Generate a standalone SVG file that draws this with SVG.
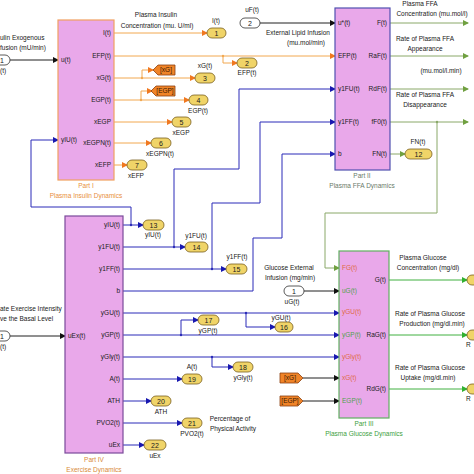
<svg xmlns="http://www.w3.org/2000/svg" width="474" height="474" viewBox="0 0 474 474">
<style>
text{font-family:"Liberation Sans",Arial,sans-serif;font-size:6.5px;fill:#202020}
.c{text-anchor:middle}
.e{text-anchor:end}
.blk{fill:#e9a8ea;stroke-width:1.2}
.ov{fill:#f0d468;stroke:#7a6020;stroke-width:0.8}
.ovw{fill:#ffffff;stroke:#303030;stroke-width:0.8}
.num{font-size:7px;text-anchor:middle}
.tag{fill:#f08428;stroke:#8a4010;stroke-width:0.8}
.tagt{font-size:6.5px;text-anchor:middle;fill:#3a1800}
.k{stroke:#202020;fill:none;stroke-width:1}
.o{stroke:#f2a850;fill:none;stroke-width:1}
.b{stroke:#2a2ab8;fill:none;stroke-width:1}
.ol{stroke:#8aa868;fill:none;stroke-width:1}
.g{stroke:#40b040;fill:none;stroke-width:1}
.in3a{fill:#e06848}
.in3b{fill:#50a050}
</style>
<defs>
<marker id="ak" markerWidth="6" markerHeight="6" refX="5" refY="3" orient="auto" markerUnits="userSpaceOnUse"><path d="M0,0L6,3L0,6z" fill="#101010"/></marker>
<marker id="ao" markerWidth="6" markerHeight="6" refX="5" refY="3" orient="auto" markerUnits="userSpaceOnUse"><path d="M0,0L6,3L0,6z" fill="#f07820"/></marker>
<marker id="ab" markerWidth="6" markerHeight="6" refX="5" refY="3" orient="auto" markerUnits="userSpaceOnUse"><path d="M0,0L6,3L0,6z" fill="#1818b0"/></marker>
<marker id="aol" markerWidth="6" markerHeight="6" refX="5" refY="3" orient="auto" markerUnits="userSpaceOnUse"><path d="M0,0L6,3L0,6z" fill="#70a040"/></marker>
<marker id="ag" markerWidth="6" markerHeight="6" refX="5" refY="3" orient="auto" markerUnits="userSpaceOnUse"><path d="M0,0L6,3L0,6z" fill="#30b030"/></marker>
</defs>
<rect width="474" height="474" fill="#ffffff"/>

<g id="connectors">
<path class="k" d="M10,60H58" marker-end="url(#ak)"/>
<path class="k" d="M260,23H335" marker-end="url(#ak)"/>
<path class="k" d="M10,336H65" marker-end="url(#ak)"/>
<path class="k" d="M304,291H339" marker-end="url(#ak)"/>
<path class="k" d="M303,378H339" marker-end="url(#ak)"/>
<path class="k" d="M303,401H339" marker-end="url(#ak)"/>

<path class="o" d="M114,33H207" marker-end="url(#ao)"/>
<path class="o" d="M114,56H335" marker-end="url(#ao)"/>
<path class="o" d="M223,56V63H237" marker-end="url(#ao)"/>
<path class="o" d="M114,78H195" marker-end="url(#ao)"/>
<path class="o" d="M142,78V70H153" marker-end="url(#ao)"/>
<path class="o" d="M114,100H189" marker-end="url(#ao)"/>
<path class="o" d="M141,100V91H152" marker-end="url(#ao)"/>
<path class="o" d="M114,122H172" marker-end="url(#ao)"/>
<path class="o" d="M114,143H151" marker-end="url(#ao)"/>
<path class="o" d="M114,165H127" marker-end="url(#ao)"/>
<circle cx="223" cy="56" r="1.2" fill="#f2a850"/>
<circle cx="142" cy="78" r="1.2" fill="#f2a850"/>
<circle cx="141" cy="100" r="1.2" fill="#f2a850"/>

<path class="b" d="M123,225H143" marker-end="url(#ab)"/>
<path class="b" d="M131,225V207H31V140H58" marker-end="url(#ab)"/>
<path class="b" d="M123,247H185" marker-end="url(#ab)"/>
<path class="b" d="M174,247V169H239V89H335" marker-end="url(#ab)"/>
<path class="b" d="M123,269H226" marker-end="url(#ab)"/>
<path class="b" d="M212,269V203H260V122H335" marker-end="url(#ab)"/>
<path class="b" d="M123,291H253V238H282V154H335" marker-end="url(#ab)"/>
<path class="b" d="M123,313H339" marker-end="url(#ab)"/>
<path class="b" d="M246,313V327H275" marker-end="url(#ab)"/>
<path class="b" d="M123,335H339" marker-end="url(#ab)"/>
<path class="b" d="M181,335V320H198" marker-end="url(#ab)"/>
<path class="b" d="M123,357H339" marker-end="url(#ab)"/>
<path class="b" d="M212,357V367H233" marker-end="url(#ab)"/>
<path class="b" d="M123,379H182" marker-end="url(#ab)"/>
<path class="b" d="M123,401H151" marker-end="url(#ab)"/>
<path class="b" d="M123,423H182" marker-end="url(#ab)"/>
<path class="b" d="M123,445H144" marker-end="url(#ab)"/>
<circle cx="131" cy="225" r="1.2" fill="#2a2ab8"/>
<circle cx="174" cy="247" r="1.2" fill="#2a2ab8"/>
<circle cx="212" cy="269" r="1.2" fill="#2a2ab8"/>
<circle cx="246" cy="313" r="1.2" fill="#2a2ab8"/>
<circle cx="181" cy="335" r="1.2" fill="#2a2ab8"/>
<circle cx="212" cy="357" r="1.2" fill="#2a2ab8"/>

<path class="ol" d="M390,23H468" marker-end="url(#aol)"/>
<path class="ol" d="M390,56H468" marker-end="url(#aol)"/>
<path class="ol" d="M390,89H468" marker-end="url(#aol)"/>
<path class="ol" d="M390,122H468" marker-end="url(#aol)"/>
<path class="ol" d="M437,122V213H325V268H339" marker-end="url(#aol)"/>
<path class="ol" d="M390,154H405" marker-end="url(#aol)"/>
<circle cx="437" cy="122" r="1.2" fill="#8aa868"/>

<path class="g" d="M389,280H467" marker-end="url(#ag)"/>
<path class="g" d="M389,335H467" marker-end="url(#ag)"/>
<path class="g" d="M389,389H467" marker-end="url(#ag)"/>
</g>

<g id="part1">
<rect class="blk" x="58" y="20" width="56" height="160" stroke="#f0a060"/>
<text x="61" y="62">u(t)</text>
<text x="61" y="142">yIU(t)</text>
<text class="e" x="111" y="35">I(t)</text>
<text class="e" x="111" y="58">EFP(t)</text>
<text class="e" x="111" y="80">xG(t)</text>
<text class="e" x="111" y="102">EGP(t)</text>
<text class="e" x="111" y="124">xEGP</text>
<text class="e" x="111" y="145">xEGPN(t)</text>
<text class="e" x="111" y="167">xEFP</text>
<text class="c" x="86" y="188" style="fill:#e89040">Part I</text>
<text class="c" x="86" y="198" style="fill:#e89040">Plasma Insulin Dynamics</text>
</g>

<g id="part2">
<rect class="blk" x="335" y="8" width="55" height="162" stroke="#5050b0"/>
<text x="338" y="25">u*(t)</text>
<text x="338" y="58">EFP(t)</text>
<text x="338" y="91">y1FU(t)</text>
<text x="338" y="124">y1FF(t)</text>
<text x="338" y="156">b</text>
<text class="e" x="387" y="25">F(t)</text>
<text class="e" x="387" y="58">RaF(t)</text>
<text class="e" x="387" y="91">RdF(t)</text>
<text class="e" x="387" y="124">fF0(t)</text>
<text class="e" x="387" y="156">FN(t)</text>
<text class="c" x="362" y="178" style="fill:#6a7a6a">Part II</text>
<text class="c" x="362" y="188" style="fill:#6a7a6a">Plasma FFA Dynamics</text>
</g>

<g id="part3">
<rect class="blk" x="339" y="251" width="50" height="167" stroke="#60b060"/>
<text class="in3a" x="342" y="270">FG(t)</text>
<text class="in3b" x="342" y="293">uG(t)</text>
<text class="in3a" x="342" y="314">yGU(t)</text>
<text class="in3b" x="342" y="337">yGP(t)</text>
<text class="in3a" x="342" y="359">yGly(t)</text>
<text class="in3a" x="342" y="380">xG(t)</text>
<text class="in3b" x="342" y="403">EGP(t)</text>
<text class="e" x="386" y="282">G(t)</text>
<text class="e" x="386" y="337">RaG(t)</text>
<text class="e" x="386" y="391">RdG(t)</text>
<text class="c" x="364" y="426" style="fill:#40a040">Part III</text>
<text class="c" x="364" y="436" style="fill:#40a040">Plasma Glucose Dynamics</text>
</g>

<g id="part4">
<rect class="blk" x="65" y="216" width="58" height="237" stroke="#7a4a9a"/>
<text x="68" y="338">uEx(t)</text>
<text class="e" x="120" y="227">yIU(t)</text>
<text class="e" x="120" y="249">y1FU(t)</text>
<text class="e" x="120" y="271">y1FF(t)</text>
<text class="e" x="120" y="293">b</text>
<text class="e" x="120" y="315">yGU(t)</text>
<text class="e" x="120" y="337">yGP(t)</text>
<text class="e" x="120" y="359">yGly(t)</text>
<text class="e" x="120" y="381">A(t)</text>
<text class="e" x="120" y="403">ATH</text>
<text class="e" x="120" y="425">PVO2(t)</text>
<text class="e" x="120" y="447">uEx</text>
<text class="c" x="94" y="462" style="fill:#d88a3a">Part IV</text>
<text class="c" x="94" y="472" style="fill:#d88a3a">Exercise Dynamics</text>
</g>

<g id="inputs">
<rect class="ovw" x="-10" y="55" width="20" height="10" rx="5"/>
<text class="num" x="2" y="62.5">1</text>
<text x="0" y="73">(t)</text>
<text x="0" y="40">ulin Exogenous</text>
<text x="0" y="50">fusion (mU/min)</text>
<rect class="ovw" x="-10" y="331" width="20" height="10" rx="5"/>
<text class="num" x="2" y="338.5">1</text>
<text x="0" y="349">(t)</text>
<text x="0" y="311">ate Exercise Intensity</text>
<text x="0" y="321">ve the Basal Level</text>
<rect class="ovw" x="240" y="18" width="20" height="10" rx="5"/>
<text class="num" x="250" y="25.5">2</text>
<text class="c" x="252" y="12">uF(t)</text>
<text class="c" x="298" y="35">External Lipid Infusion</text>
<text class="c" x="306" y="45">(mu.mol/min)</text>
<rect class="ovw" x="284" y="286" width="20" height="10" rx="5"/>
<text class="num" x="294" y="293.5">1</text>
<text class="c" x="292" y="304">uG(t)</text>
<text class="c" x="289" y="270">Glucose External</text>
<text class="c" x="290" y="280">Infusion (mg/min)</text>
</g>

<g id="tags">
<polygon class="tag" points="153,70 158,65 175,65 175,75 158,75"/>
<text class="tagt" x="166" y="72.3">[xG]</text>
<polygon class="tag" points="151,91 156,86 175,86 175,96 156,96"/>
<text class="tagt" x="165" y="93.3">[EGP]</text>
<polygon class="tag" points="280,373 298,373 303,378 298,383 280,383"/>
<text class="tagt" x="290" y="380.3">[xG]</text>
<polygon class="tag" points="280,396 298,396 303,401 298,406 280,406"/>
<text class="tagt" x="290" y="403.3">[EGP]</text>
</g>

<g id="outports">
<rect class="ov" x="207" y="28" width="19" height="10" rx="5"/><text class="num" x="216.5" y="35.5">1</text>
<text class="c" x="216" y="23">I(t)</text>
<text class="c" x="156" y="17">Plasma Insulin</text>
<text class="c" x="157" y="28">Concentration (mu. U/ml)</text>
<rect class="ov" x="237" y="58" width="20" height="10" rx="5"/><text class="num" x="247" y="65.5">2</text>
<text class="c" x="247" y="75">EFP(t)</text>
<rect class="ov" x="195" y="73" width="20" height="10" rx="5"/><text class="num" x="205" y="80.5">3</text>
<text class="c" x="205" y="68">xG(t)</text>
<rect class="ov" x="189" y="95" width="19" height="10" rx="5"/><text class="num" x="198.5" y="102.5">4</text>
<text class="c" x="198" y="113">EGP(t)</text>
<rect class="ov" x="172" y="117" width="19" height="10" rx="5"/><text class="num" x="181.5" y="124.5">5</text>
<text class="c" x="181" y="135">xEGP</text>
<rect class="ov" x="151" y="138" width="20" height="10" rx="5"/><text class="num" x="161" y="145.5">6</text>
<text class="c" x="160" y="156">xEGPN(t)</text>
<rect class="ov" x="127" y="160" width="20" height="10" rx="5"/><text class="num" x="137" y="167.5">7</text>
<text class="c" x="136" y="178">xEFP</text>

<rect class="ov" x="405" y="149" width="27" height="10" rx="5"/><text class="num" x="418.5" y="156.5">12</text>
<text class="c" x="418" y="144">FN(t)</text>
<text class="c" x="420" y="6">Plasma FFA</text>
<text class="c" x="432" y="16">Concentration (mu.mol/l)</text>
<text class="c" x="425" y="41">Rate of Plasma FFA</text>
<text class="c" x="425" y="51">Appearance</text>
<text class="c" x="441" y="73">(mu.mol/l.min)</text>
<text class="c" x="425" y="97">Rate of Plasma FFA</text>
<text class="c" x="425" y="107">Disappearance</text>

<rect class="ov" x="143" y="220" width="21" height="10" rx="5"/><text class="num" x="153.5" y="227.5">13</text>
<text class="c" x="153" y="237">yIU(t)</text>
<rect class="ov" x="185" y="242" width="23" height="10" rx="5"/><text class="num" x="196.5" y="249.5">14</text>
<text class="c" x="196" y="238">y1FU(t)</text>
<rect class="ov" x="226" y="264" width="21" height="10" rx="5"/><text class="num" x="236.5" y="271.5">15</text>
<text class="c" x="237" y="259">y1FF(t)</text>
<rect class="ov" x="275" y="322" width="18" height="10" rx="5"/><text class="num" x="284" y="329.5">16</text>
<text class="c" x="281" y="320">yGU(t)</text>
<rect class="ov" x="198" y="315" width="21" height="10" rx="5"/><text class="num" x="208.5" y="322.5">17</text>
<text class="c" x="208" y="333">yGP(t)</text>
<rect class="ov" x="233" y="362" width="20" height="10" rx="5"/><text class="num" x="243" y="369.5">18</text>
<text class="c" x="243" y="380">yGly(t)</text>
<rect class="ov" x="182" y="374" width="20" height="10" rx="5"/><text class="num" x="192" y="381.5">19</text>
<text class="c" x="192" y="369">A(t)</text>
<rect class="ov" x="151" y="396" width="20" height="10" rx="5"/><text class="num" x="161" y="403.5">20</text>
<text class="c" x="161" y="414">ATH</text>
<rect class="ov" x="182" y="418" width="20" height="10" rx="5"/><text class="num" x="192" y="425.5">21</text>
<text class="c" x="192" y="436">PVO2(t)</text>
<text class="c" x="230" y="421">Percentage of</text>
<text class="c" x="233" y="431">Physical Activity</text>
<rect class="ov" x="144" y="440" width="22" height="10" rx="5"/><text class="num" x="155" y="447.5">22</text>
<text class="c" x="155" y="458">uEx</text>

<rect class="ov" x="467" y="275" width="20" height="10" rx="5"/>
<rect class="ov" x="467" y="330" width="20" height="10" rx="5"/>
<text x="466" y="347">R</text>
<rect class="ov" x="467" y="384" width="20" height="10" rx="5"/>
<text x="466" y="401">R</text>
<text class="c" x="423" y="260">Plasma Glucose</text>
<text class="c" x="428" y="270">Concentration (mg/dl)</text>
<text class="c" x="430" y="316">Rate of Plasma Glucose</text>
<text class="c" x="432" y="326">Production (mg/dl.min)</text>
<text class="c" x="430" y="370">Rate of Plasma Glucose</text>
<text class="c" x="428" y="380">Uptake (mg/dl.min)</text>
</g>
</svg>
